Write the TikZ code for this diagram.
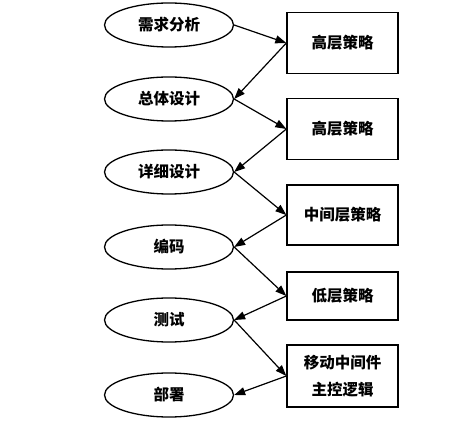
\documentclass[tikz,border=0pt]{standalone}
\usepackage{fontspec}
\newfontfamily\cjk{Noto Sans CJK SC}
\usetikzlibrary{shapes.geometric,arrows.meta}
\begin{document}
\begin{tikzpicture}[x=1pt,y=-1pt,
  phase/.style={ellipse,draw,line width=1.3pt,minimum width=129pt,minimum height=44pt,inner sep=0pt,font=\cjk\bfseries\fontsize{15.5}{18}\selectfont},
  strat/.style={rectangle,draw,line width=1.3pt,minimum width=111pt,inner sep=0pt,font=\cjk\bfseries\fontsize{15.5}{27}\selectfont,align=center},
  arr/.style={line width=1.2pt,-{Triangle[length=11pt,width=8pt]}}]
\useasboundingbox (0,0) rectangle (474,430);
\node[phase] (e1) at (169,25) {需求分析};
\node[phase] (e2) at (169,99) {总体设计};
\node[phase] (e3) at (169,172) {详细设计};
\node[phase] (e4) at (169,247) {编码};
\node[phase] (e5) at (169,320) {测试};
\node[phase] (e6) at (169,395) {部署};
\node[strat,minimum height=61pt] (b1) at (342.5,43) {高层策略};
\node[strat,minimum height=61pt] (b2) at (342.5,129) {高层策略};
\node[strat,minimum height=60pt] (b3) at (342.5,215) {中间层策略};
\node[strat,minimum height=48pt] (b4) at (342.5,296) {低层策略};
\node[strat,minimum height=62pt] (b5) at (342.5,376) {移动中间件\\主控逻辑};
\draw[arr] (e1.east) -- (b1.west);
\draw[arr] (b1.west) -- (e2.east);
\draw[arr] (e2.east) -- (b2.west);
\draw[arr] (b2.west) -- (e3.east);
\draw[arr] (e3.east) -- (b3.west);
\draw[arr] (b3.west) -- (e4.east);
\draw[arr] (e4.east) -- (b4.west);
\draw[arr] (b4.west) -- (e5.east);
\draw[arr] (e5.east) -- (b5.west);
\draw[arr] (b5.west) -- (e6.east);
\end{tikzpicture}
\end{document}
